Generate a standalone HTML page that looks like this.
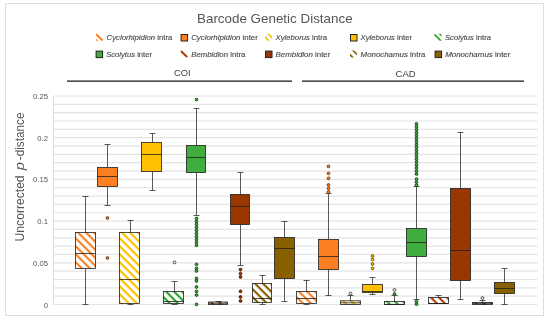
<!DOCTYPE html>
<html lang="en"><head><meta charset="utf-8"><title>Barcode Genetic Distance</title>
<style>html,body{margin:0;padding:0;background:#fff;overflow:hidden}body{width:550px;height:322px;position:relative;font-family:"Liberation Sans",sans-serif}</style></head>
<body>
<svg width="550" height="322" viewBox="0 0 550 322" style="position:absolute;left:0;top:0;display:block" font-family="'Liberation Sans', sans-serif">
<defs>
<pattern id="h_cyc" width="8" height="5.657" patternUnits="userSpaceOnUse" patternTransform="rotate(45)"><rect width="8" height="5.657" fill="#fff"/><rect x="0" y="2.85" width="8" height="2.1" fill="#FC7F22"/></pattern>
<pattern id="h_xyl" width="8" height="5.657" patternUnits="userSpaceOnUse" patternTransform="rotate(45)"><rect width="8" height="5.657" fill="#fff"/><rect x="0" y="2.85" width="8" height="2.1" fill="#FFC000"/></pattern>
<pattern id="h_sco" width="8" height="5.657" patternUnits="userSpaceOnUse" patternTransform="rotate(45)"><rect width="8" height="5.657" fill="#fff"/><rect x="0" y="2.85" width="8" height="2.1" fill="#2BA32B"/></pattern>
<pattern id="h_bem" width="8" height="5.657" patternUnits="userSpaceOnUse" patternTransform="rotate(45)"><rect width="8" height="5.657" fill="#fff"/><rect x="0" y="2.85" width="8" height="2.1" fill="#B43C06"/></pattern>
<pattern id="h_mon" width="8" height="5.657" patternUnits="userSpaceOnUse" patternTransform="rotate(45)"><rect width="8" height="5.657" fill="#fff"/><rect x="0" y="2.85" width="8" height="2.1" fill="#886000"/></pattern>
</defs>
<rect x="0" y="0" width="550" height="322" fill="#fff"/>
<rect x="5.5" y="3.5" width="538" height="312" fill="#fff" stroke="#dedede" stroke-width="1"/>
<line x1="53.6" x2="537.5" y1="304.50" y2="304.50" stroke="#e4e4e4" stroke-width="1.2"/>
<line x1="53.6" x2="537.5" y1="296.16" y2="296.16" stroke="#e4e4e4" stroke-width="1.2"/>
<line x1="53.6" x2="537.5" y1="287.82" y2="287.82" stroke="#e4e4e4" stroke-width="1.2"/>
<line x1="53.6" x2="537.5" y1="279.48" y2="279.48" stroke="#e4e4e4" stroke-width="1.2"/>
<line x1="53.6" x2="537.5" y1="271.14" y2="271.14" stroke="#e4e4e4" stroke-width="1.2"/>
<line x1="53.6" x2="537.5" y1="262.80" y2="262.80" stroke="#e4e4e4" stroke-width="1.2"/>
<line x1="53.6" x2="537.5" y1="254.46" y2="254.46" stroke="#e4e4e4" stroke-width="1.2"/>
<line x1="53.6" x2="537.5" y1="246.12" y2="246.12" stroke="#e4e4e4" stroke-width="1.2"/>
<line x1="53.6" x2="537.5" y1="237.78" y2="237.78" stroke="#e4e4e4" stroke-width="1.2"/>
<line x1="53.6" x2="537.5" y1="229.44" y2="229.44" stroke="#e4e4e4" stroke-width="1.2"/>
<line x1="53.6" x2="537.5" y1="221.10" y2="221.10" stroke="#e4e4e4" stroke-width="1.2"/>
<line x1="53.6" x2="537.5" y1="212.76" y2="212.76" stroke="#e4e4e4" stroke-width="1.2"/>
<line x1="53.6" x2="537.5" y1="204.42" y2="204.42" stroke="#e4e4e4" stroke-width="1.2"/>
<line x1="53.6" x2="537.5" y1="196.08" y2="196.08" stroke="#e4e4e4" stroke-width="1.2"/>
<line x1="53.6" x2="537.5" y1="187.74" y2="187.74" stroke="#e4e4e4" stroke-width="1.2"/>
<line x1="53.6" x2="537.5" y1="179.40" y2="179.40" stroke="#e4e4e4" stroke-width="1.2"/>
<line x1="53.6" x2="537.5" y1="171.06" y2="171.06" stroke="#e4e4e4" stroke-width="1.2"/>
<line x1="53.6" x2="537.5" y1="162.72" y2="162.72" stroke="#e4e4e4" stroke-width="1.2"/>
<line x1="53.6" x2="537.5" y1="154.38" y2="154.38" stroke="#e4e4e4" stroke-width="1.2"/>
<line x1="53.6" x2="537.5" y1="146.04" y2="146.04" stroke="#e4e4e4" stroke-width="1.2"/>
<line x1="53.6" x2="537.5" y1="137.70" y2="137.70" stroke="#e4e4e4" stroke-width="1.2"/>
<line x1="53.6" x2="537.5" y1="129.36" y2="129.36" stroke="#e4e4e4" stroke-width="1.2"/>
<line x1="53.6" x2="537.5" y1="121.02" y2="121.02" stroke="#e4e4e4" stroke-width="1.2"/>
<line x1="53.6" x2="537.5" y1="112.68" y2="112.68" stroke="#e4e4e4" stroke-width="1.2"/>
<line x1="53.6" x2="537.5" y1="104.34" y2="104.34" stroke="#e4e4e4" stroke-width="1.2"/>
<line x1="53.6" x2="537.5" y1="96.00" y2="96.00" stroke="#e4e4e4" stroke-width="1.2"/>
<line x1="53.6" x2="53.6" y1="96.0" y2="304.5" stroke="#dcdcdc" stroke-width="1"/>
<text x="48.0" y="307.50" font-size="7.7" fill="#555" text-anchor="end">0</text>
<text x="48.0" y="265.80" font-size="7.7" fill="#555" text-anchor="end">0.05</text>
<text x="48.0" y="224.10" font-size="7.7" fill="#555" text-anchor="end">0.1</text>
<text x="48.0" y="182.40" font-size="7.7" fill="#555" text-anchor="end">0.15</text>
<text x="48.0" y="140.70" font-size="7.7" fill="#555" text-anchor="end">0.2</text>
<text x="48.0" y="99.00" font-size="7.7" fill="#555" text-anchor="end">0.25</text>
<g transform="translate(23.9,0) rotate(-90)">
<text x="-241.4" y="0" font-size="12.8" fill="#555" lengthAdjust="spacingAndGlyphs" textLength="66">Uncorrected</text>
<text x="-170.2" y="0" font-size="12.8" fill="#555" lengthAdjust="spacingAndGlyphs" textLength="8.2" font-style="italic">p</text>
<text x="-160.2" y="0" font-size="12.8" fill="#555" lengthAdjust="spacingAndGlyphs" textLength="47.6">-distance</text>
</g>
<text x="197.0" y="22.9" font-size="12.4" fill="#555" textLength="155.6" lengthAdjust="spacingAndGlyphs">Barcode Genetic Distance</text>
<text x="173.9" y="76.1" font-size="9.3" fill="#404040" textLength="16.6" lengthAdjust="spacingAndGlyphs">COI</text>
<text x="395.6" y="77.0" font-size="9.3" fill="#404040" textLength="20" lengthAdjust="spacingAndGlyphs">CAD</text>
<line x1="67" x2="292" y1="81.2" y2="81.2" stroke="#161616" stroke-width="1.25"/>
<line x1="302" x2="524" y1="81.2" y2="81.2" stroke="#161616" stroke-width="1.25"/>
<clipPath id="cl_cyc"><rect x="96" y="33.8" width="7" height="7"/></clipPath>
<g clip-path="url(#cl_cyc)">
<line x1="93" y1="31" x2="107" y2="45" stroke="#FC7F22" stroke-width="2"/>
<line x1="93" y1="37" x2="107" y2="51" stroke="#FC7F22" stroke-width="2"/>
</g>
<text x="106.6" y="39.9" font-size="7.3" fill="#484848" stroke="#484848" stroke-width="0.12" textLength="65.8" lengthAdjust="spacingAndGlyphs"><tspan font-style="italic">Cyclorhipidion</tspan> intra</text>
<rect x="181.1" y="34.5" width="6.5" height="6.5" fill="#FC7F22" stroke="#222" stroke-width="1"/>
<text x="191.2" y="39.9" font-size="7.3" fill="#484848" stroke="#484848" stroke-width="0.12" textLength="66.6" lengthAdjust="spacingAndGlyphs"><tspan font-style="italic">Cyclorhipidion</tspan> inter</text>
<clipPath id="cl_xyl"><rect x="265" y="33.8" width="7" height="7"/></clipPath>
<g clip-path="url(#cl_xyl)">
<line x1="262" y1="27.69999999999999" x2="276" y2="41.69999999999999" stroke="#FFC000" stroke-width="1.6"/>
<line x1="262" y1="34" x2="276" y2="48" stroke="#FFC000" stroke-width="1.6"/>
</g>
<text x="275.6" y="39.9" font-size="7.3" fill="#484848" stroke="#484848" stroke-width="0.12" textLength="51.4" lengthAdjust="spacingAndGlyphs"><tspan font-style="italic">Xyleborus</tspan> intra</text>
<rect x="350.5" y="34.5" width="6.5" height="6.5" fill="#FFC000" stroke="#222" stroke-width="1"/>
<text x="360.6" y="39.9" font-size="7.3" fill="#484848" stroke="#484848" stroke-width="0.12" textLength="51.4" lengthAdjust="spacingAndGlyphs"><tspan font-style="italic">Xyleborus</tspan> inter</text>
<clipPath id="cl_sco"><rect x="434.4" y="33.8" width="7" height="7"/></clipPath>
<g clip-path="url(#cl_sco)">
<line x1="431.4" y1="31.399999999999977" x2="445.4" y2="45.39999999999998" stroke="#2BA32B" stroke-width="1.8"/>
<line x1="431.4" y1="25.399999999999977" x2="445.4" y2="39.39999999999998" stroke="#2BA32B" stroke-width="1.8"/>
</g>
<text x="445.0" y="39.9" font-size="7.3" fill="#484848" stroke="#484848" stroke-width="0.12" textLength="46.0" lengthAdjust="spacingAndGlyphs"><tspan font-style="italic">Scolytus</tspan> intra</text>
<rect x="96.1" y="51.1" width="6.5" height="6.5" fill="#3FAE3F" stroke="#222" stroke-width="1"/>
<text x="106.2" y="56.5" font-size="7.3" fill="#484848" stroke="#484848" stroke-width="0.12" textLength="45.8" lengthAdjust="spacingAndGlyphs"><tspan font-style="italic">Scolytus</tspan> inter</text>
<clipPath id="cl_bem"><rect x="180.6" y="50.4" width="7" height="7"/></clipPath>
<g clip-path="url(#cl_bem)">
<line x1="177.6" y1="47.599999999999994" x2="191.6" y2="61.599999999999994" stroke="#B43C06" stroke-width="2"/>
</g>
<text x="191.2" y="56.5" font-size="7.3" fill="#484848" stroke="#484848" stroke-width="0.12" textLength="54.2" lengthAdjust="spacingAndGlyphs"><tspan font-style="italic">Bembidion</tspan> intra</text>
<rect x="265.5" y="51.1" width="6.5" height="6.5" fill="#983800" stroke="#222" stroke-width="1"/>
<text x="275.6" y="56.5" font-size="7.3" fill="#484848" stroke="#484848" stroke-width="0.12" textLength="54.8" lengthAdjust="spacingAndGlyphs"><tspan font-style="italic">Bembidion</tspan> inter</text>
<clipPath id="cl_mon"><rect x="350" y="50.4" width="7" height="7"/></clipPath>
<g clip-path="url(#cl_mon)">
<line x1="347" y1="44.39999999999998" x2="361" y2="58.39999999999998" stroke="#886000" stroke-width="1.7"/>
<line x1="347" y1="51.80000000000001" x2="361" y2="65.80000000000001" stroke="#886000" stroke-width="1.7"/>
</g>
<text x="360.6" y="56.5" font-size="7.3" fill="#484848" stroke="#484848" stroke-width="0.12" textLength="64.8" lengthAdjust="spacingAndGlyphs"><tspan font-style="italic">Monochamus</tspan> intra</text>
<rect x="435.1" y="51.1" width="6.5" height="6.5" fill="#886000" stroke="#222" stroke-width="1"/>
<text x="445.2" y="56.5" font-size="7.3" fill="#484848" stroke="#484848" stroke-width="0.12" textLength="65.2" lengthAdjust="spacingAndGlyphs"><tspan font-style="italic">Monochamus</tspan> inter</text>
<g stroke="#1e1e1e" stroke-width="0.8">
<g stroke="#303030">
<line x1="85.5" x2="85.5" y1="196.5" y2="232.5"/>
<line x1="85.5" x2="85.5" y1="268.5" y2="304.5"/>
<line x1="82.5" x2="88.5" y1="196.5" y2="196.5"/>
<line x1="82.5" x2="88.5" y1="304.5" y2="304.5"/>
</g>
<g transform="translate(75.5,232.5)"><rect x="0" y="0" width="20.0" height="36.0" fill="url(#h_cyc)"/></g>
<line x1="75.5" x2="95.5" y1="253.5" y2="253.5"/>
</g>
<g stroke="#1e1e1e" stroke-width="0.8">
<g stroke="#303030">
<line x1="107.5" x2="107.5" y1="144.5" y2="167.5"/>
<line x1="107.5" x2="107.5" y1="186.5" y2="205.5"/>
<line x1="104.5" x2="110.5" y1="144.5" y2="144.5"/>
<line x1="104.5" x2="110.5" y1="205.5" y2="205.5"/>
</g>
<g transform="translate(97.5,167.5)"><rect x="0" y="0" width="20.0" height="19.0" fill="#FC7F22"/></g>
<line x1="97.5" x2="117.5" y1="176.5" y2="176.5"/>
</g>
<circle cx="107.5" cy="218.00" r="1.4" fill="#FC7F22" stroke="#6a3208" stroke-width="0.85"/>
<circle cx="107.5" cy="258.00" r="1.4" fill="#FC7F22" stroke="#6a3208" stroke-width="0.85"/>
<g stroke="#1e1e1e" stroke-width="0.8">
<g stroke="#303030">
<line x1="130.5" x2="130.5" y1="220.5" y2="232.5"/>
<line x1="130.5" x2="130.5" y1="303.5" y2="304.5"/>
<line x1="127.5" x2="133.5" y1="220.5" y2="220.5"/>
<line x1="127.5" x2="133.5" y1="304.5" y2="304.5"/>
</g>
<g transform="translate(119.5,232.5)"><rect x="0" y="0" width="20.0" height="71.0" fill="url(#h_xyl)"/></g>
<line x1="119.5" x2="139.5" y1="279.5" y2="279.5"/>
</g>
<g stroke="#1e1e1e" stroke-width="0.8">
<g stroke="#303030">
<line x1="152.5" x2="152.5" y1="133.5" y2="142.5"/>
<line x1="152.5" x2="152.5" y1="171.5" y2="190.5"/>
<line x1="149.5" x2="155.5" y1="133.5" y2="133.5"/>
<line x1="149.5" x2="155.5" y1="190.5" y2="190.5"/>
</g>
<g transform="translate(141.5,142.5)"><rect x="0" y="0" width="20.0" height="29.0" fill="#FFC000"/></g>
<line x1="141.5" x2="161.5" y1="154.5" y2="154.5"/>
</g>
<g stroke="#1e1e1e" stroke-width="0.8">
<g stroke="#303030">
<line x1="174.5" x2="174.5" y1="281.5" y2="291.5"/>
<line x1="174.5" x2="174.5" y1="303.5" y2="304.5"/>
<line x1="171.5" x2="177.5" y1="281.5" y2="281.5"/>
<line x1="171.5" x2="177.5" y1="304.5" y2="304.5"/>
</g>
<g transform="translate(163.5,291.5)"><rect x="0" y="0" width="20.0" height="12.0" fill="url(#h_sco)"/></g>
<line x1="163.5" x2="183.5" y1="301.5" y2="301.5"/>
</g>
<circle cx="174.5" cy="262.40" r="1.4" fill="#fff" stroke="#2c2c2c" stroke-width="0.85"/>
<g stroke="#1e1e1e" stroke-width="0.8">
<g stroke="#303030">
<line x1="196.5" x2="196.5" y1="108.5" y2="145.5"/>
<line x1="196.5" x2="196.5" y1="172.5" y2="215.5"/>
<line x1="193.5" x2="199.5" y1="108.5" y2="108.5"/>
<line x1="193.5" x2="199.5" y1="215.5" y2="215.5"/>
</g>
<g transform="translate(186.5,145.5)"><rect x="0" y="0" width="19.0" height="27.0" fill="#3FAE3F"/></g>
<line x1="186.5" x2="205.5" y1="157.5" y2="157.5"/>
</g>
<circle cx="196.5" cy="99.60" r="1.4" fill="#3FAE3F" stroke="#0f3a0f" stroke-width="0.85"/>
<circle cx="196.5" cy="218.50" r="1.4" fill="#3FAE3F" stroke="#0f3a0f" stroke-width="0.85"/>
<circle cx="196.5" cy="221.48" r="1.4" fill="#3FAE3F" stroke="#0f3a0f" stroke-width="0.85"/>
<circle cx="196.5" cy="224.46" r="1.4" fill="#3FAE3F" stroke="#0f3a0f" stroke-width="0.85"/>
<circle cx="196.5" cy="227.44" r="1.4" fill="#3FAE3F" stroke="#0f3a0f" stroke-width="0.85"/>
<circle cx="196.5" cy="230.42" r="1.4" fill="#3FAE3F" stroke="#0f3a0f" stroke-width="0.85"/>
<circle cx="196.5" cy="233.40" r="1.4" fill="#3FAE3F" stroke="#0f3a0f" stroke-width="0.85"/>
<circle cx="196.5" cy="236.38" r="1.4" fill="#3FAE3F" stroke="#0f3a0f" stroke-width="0.85"/>
<circle cx="196.5" cy="239.36" r="1.4" fill="#3FAE3F" stroke="#0f3a0f" stroke-width="0.85"/>
<circle cx="196.5" cy="242.34" r="1.4" fill="#3FAE3F" stroke="#0f3a0f" stroke-width="0.85"/>
<circle cx="196.5" cy="245.32" r="1.4" fill="#3FAE3F" stroke="#0f3a0f" stroke-width="0.85"/>
<circle cx="196.5" cy="264.40" r="1.4" fill="#3FAE3F" stroke="#0f3a0f" stroke-width="0.85"/>
<circle cx="196.5" cy="268.40" r="1.4" fill="#3FAE3F" stroke="#0f3a0f" stroke-width="0.85"/>
<circle cx="196.5" cy="271.00" r="1.4" fill="#3FAE3F" stroke="#0f3a0f" stroke-width="0.85"/>
<circle cx="196.5" cy="278.40" r="1.4" fill="#3FAE3F" stroke="#0f3a0f" stroke-width="0.85"/>
<circle cx="196.5" cy="281.00" r="1.4" fill="#3FAE3F" stroke="#0f3a0f" stroke-width="0.85"/>
<circle cx="196.5" cy="287.00" r="1.4" fill="#3FAE3F" stroke="#0f3a0f" stroke-width="0.85"/>
<circle cx="196.5" cy="291.40" r="1.4" fill="#3FAE3F" stroke="#0f3a0f" stroke-width="0.85"/>
<circle cx="196.5" cy="295.00" r="1.4" fill="#3FAE3F" stroke="#0f3a0f" stroke-width="0.85"/>
<circle cx="196.5" cy="304.40" r="1.4" fill="#3FAE3F" stroke="#0f3a0f" stroke-width="0.85"/>
<g stroke="#1e1e1e" stroke-width="0.8">
<g stroke="#303030">
<line x1="218.5" x2="218.5" y1="301.5" y2="302"/>
<line x1="218.5" x2="218.5" y1="304.6" y2="304.5"/>
<line x1="215.5" x2="221.5" y1="301.5" y2="301.5"/>
<line x1="215.5" x2="221.5" y1="304.5" y2="304.5"/>
</g>
<g transform="translate(208.5,302)"><rect x="0" y="0" width="19.0" height="2.6000000000000227" fill="url(#h_bem)"/></g>
<line x1="208.5" x2="227.5" y1="303.3" y2="303.3"/>
</g>
<g stroke="#1e1e1e" stroke-width="0.8">
<g stroke="#303030">
<line x1="240.5" x2="240.5" y1="172.5" y2="194.5"/>
<line x1="240.5" x2="240.5" y1="224.5" y2="265.5"/>
<line x1="237.5" x2="243.5" y1="172.5" y2="172.5"/>
<line x1="237.5" x2="243.5" y1="265.5" y2="265.5"/>
</g>
<g transform="translate(230.5,194.5)"><rect x="0" y="0" width="19.0" height="30.0" fill="#983800"/></g>
<line x1="230.5" x2="249.5" y1="206.5" y2="206.5"/>
</g>
<circle cx="240.5" cy="269.60" r="1.4" fill="#983800" stroke="#3a1400" stroke-width="0.85"/>
<circle cx="240.5" cy="273.60" r="1.4" fill="#983800" stroke="#3a1400" stroke-width="0.85"/>
<circle cx="240.5" cy="277.00" r="1.4" fill="#983800" stroke="#3a1400" stroke-width="0.85"/>
<circle cx="240.5" cy="291.40" r="1.4" fill="#983800" stroke="#3a1400" stroke-width="0.85"/>
<circle cx="240.5" cy="297.00" r="1.4" fill="#983800" stroke="#3a1400" stroke-width="0.85"/>
<circle cx="240.5" cy="301.00" r="1.4" fill="#983800" stroke="#3a1400" stroke-width="0.85"/>
<g stroke="#1e1e1e" stroke-width="0.8">
<g stroke="#303030">
<line x1="262.5" x2="262.5" y1="275.5" y2="283.5"/>
<line x1="262.5" x2="262.5" y1="302.5" y2="304.5"/>
<line x1="259.5" x2="265.5" y1="275.5" y2="275.5"/>
<line x1="259.5" x2="265.5" y1="304.5" y2="304.5"/>
</g>
<g transform="translate(252.5,283.5)"><rect x="0" y="0" width="19.0" height="19.0" fill="url(#h_mon)"/></g>
<line x1="252.5" x2="271.5" y1="298.5" y2="298.5"/>
</g>
<g stroke="#1e1e1e" stroke-width="0.8">
<g stroke="#303030">
<line x1="284.5" x2="284.5" y1="221.5" y2="237.5"/>
<line x1="284.5" x2="284.5" y1="278.5" y2="301.5"/>
<line x1="281.5" x2="287.5" y1="221.5" y2="221.5"/>
<line x1="281.5" x2="287.5" y1="301.5" y2="301.5"/>
</g>
<g transform="translate(274.5,237.5)"><rect x="0" y="0" width="20.0" height="41.0" fill="#886000"/></g>
<line x1="274.5" x2="294.5" y1="248.5" y2="248.5"/>
</g>
<g stroke="#1e1e1e" stroke-width="0.8">
<g stroke="#303030">
<line x1="306.5" x2="306.5" y1="280.5" y2="291.5"/>
<line x1="306.5" x2="306.5" y1="303.5" y2="304.5"/>
<line x1="303.5" x2="309.5" y1="280.5" y2="280.5"/>
<line x1="303.5" x2="309.5" y1="304.5" y2="304.5"/>
</g>
<g transform="translate(296.5,291.5)"><rect x="0" y="0" width="20.0" height="12.0" fill="url(#h_cyc)"/></g>
<line x1="296.5" x2="316.5" y1="298.5" y2="298.5"/>
</g>
<g stroke="#1e1e1e" stroke-width="0.8">
<g stroke="#303030">
<line x1="328.5" x2="328.5" y1="193.5" y2="239.5"/>
<line x1="328.5" x2="328.5" y1="269.5" y2="295.5"/>
<line x1="325.5" x2="331.5" y1="193.5" y2="193.5"/>
<line x1="325.5" x2="331.5" y1="295.5" y2="295.5"/>
</g>
<g transform="translate(318.5,239.5)"><rect x="0" y="0" width="20.0" height="30.0" fill="#FC7F22"/></g>
<line x1="318.5" x2="338.5" y1="256.5" y2="256.5"/>
</g>
<circle cx="328.5" cy="166.40" r="1.4" fill="#FC7F22" stroke="#6a3208" stroke-width="0.85"/>
<circle cx="328.5" cy="173.40" r="1.4" fill="#FC7F22" stroke="#6a3208" stroke-width="0.85"/>
<circle cx="328.5" cy="178.40" r="1.4" fill="#FC7F22" stroke="#6a3208" stroke-width="0.85"/>
<circle cx="328.5" cy="185.00" r="1.4" fill="#FC7F22" stroke="#6a3208" stroke-width="0.85"/>
<circle cx="328.5" cy="188.40" r="1.4" fill="#FC7F22" stroke="#6a3208" stroke-width="0.85"/>
<circle cx="328.5" cy="192.00" r="1.4" fill="#FC7F22" stroke="#6a3208" stroke-width="0.85"/>
<g stroke="#1e1e1e" stroke-width="0.8">
<g stroke="#303030">
<line x1="350.5" x2="350.5" y1="295.5" y2="300.8"/>
<line x1="350.5" x2="350.5" y1="304.6" y2="304.5"/>
<line x1="347.5" x2="353.5" y1="295.5" y2="295.5"/>
<line x1="347.5" x2="353.5" y1="304.5" y2="304.5"/>
</g>
<g transform="translate(340.5,300.8)"><rect x="0" y="0" width="20.0" height="3.8000000000000114" fill="url(#h_xyl)"/></g>
<line x1="340.5" x2="360.5" y1="302.8" y2="302.8"/>
</g>
<circle cx="350.5" cy="293.50" r="1.4" fill="#fff" stroke="#2c2c2c" stroke-width="0.85"/>
<g stroke="#1e1e1e" stroke-width="0.8">
<g stroke="#303030">
<line x1="372.5" x2="372.5" y1="277.5" y2="284.5"/>
<line x1="372.5" x2="372.5" y1="292.5" y2="294.5"/>
<line x1="369.5" x2="375.5" y1="277.5" y2="277.5"/>
<line x1="369.5" x2="375.5" y1="294.5" y2="294.5"/>
</g>
<g transform="translate(362.5,284.5)"><rect x="0" y="0" width="20.0" height="8.0" fill="#FFC000"/></g>
<line x1="362.5" x2="382.5" y1="291.5" y2="291.5"/>
</g>
<circle cx="372.5" cy="256.00" r="1.4" fill="#FFC000" stroke="#5a4400" stroke-width="0.85"/>
<circle cx="372.5" cy="259.40" r="1.4" fill="#FFC000" stroke="#5a4400" stroke-width="0.85"/>
<circle cx="372.5" cy="264.00" r="1.4" fill="#FFC000" stroke="#5a4400" stroke-width="0.85"/>
<circle cx="372.5" cy="268.40" r="1.4" fill="#FFC000" stroke="#5a4400" stroke-width="0.85"/>
<g stroke="#1e1e1e" stroke-width="0.8">
<g stroke="#303030">
<line x1="394.5" x2="394.5" y1="295.5" y2="301.4"/>
<line x1="394.5" x2="394.5" y1="304.6" y2="304.5"/>
<line x1="391.5" x2="397.5" y1="295.5" y2="295.5"/>
<line x1="391.5" x2="397.5" y1="304.5" y2="304.5"/>
</g>
<g transform="translate(384.5,301.4)"><rect x="0" y="0" width="20.0" height="3.2000000000000455" fill="url(#h_sco)"/></g>
<line x1="384.5" x2="404.5" y1="304.4" y2="304.4"/>
</g>
<circle cx="394.5" cy="289.90" r="1.4" fill="#fff" stroke="#2c2c2c" stroke-width="0.85"/>
<circle cx="394.5" cy="294.00" r="1.4" fill="#3FAE3F" stroke="#0f3a0f" stroke-width="0.85"/>
<g stroke="#1e1e1e" stroke-width="0.8">
<g stroke="#303030">
<line x1="416.5" x2="416.5" y1="186.5" y2="228.5"/>
<line x1="416.5" x2="416.5" y1="256.5" y2="299.5"/>
<line x1="413.5" x2="419.5" y1="186.5" y2="186.5"/>
<line x1="413.5" x2="419.5" y1="299.5" y2="299.5"/>
</g>
<g transform="translate(406.5,228.5)"><rect x="0" y="0" width="20.0" height="28.0" fill="#3FAE3F"/></g>
<line x1="406.5" x2="426.5" y1="242.5" y2="242.5"/>
</g>
<circle cx="416.5" cy="123.80" r="1.4" fill="#3FAE3F" stroke="#0f3a0f" stroke-width="0.85"/>
<circle cx="416.5" cy="126.75" r="1.4" fill="#3FAE3F" stroke="#0f3a0f" stroke-width="0.85"/>
<circle cx="416.5" cy="129.71" r="1.4" fill="#3FAE3F" stroke="#0f3a0f" stroke-width="0.85"/>
<circle cx="416.5" cy="132.66" r="1.4" fill="#3FAE3F" stroke="#0f3a0f" stroke-width="0.85"/>
<circle cx="416.5" cy="135.61" r="1.4" fill="#3FAE3F" stroke="#0f3a0f" stroke-width="0.85"/>
<circle cx="416.5" cy="138.56" r="1.4" fill="#3FAE3F" stroke="#0f3a0f" stroke-width="0.85"/>
<circle cx="416.5" cy="141.52" r="1.4" fill="#3FAE3F" stroke="#0f3a0f" stroke-width="0.85"/>
<circle cx="416.5" cy="144.47" r="1.4" fill="#3FAE3F" stroke="#0f3a0f" stroke-width="0.85"/>
<circle cx="416.5" cy="147.42" r="1.4" fill="#3FAE3F" stroke="#0f3a0f" stroke-width="0.85"/>
<circle cx="416.5" cy="150.38" r="1.4" fill="#3FAE3F" stroke="#0f3a0f" stroke-width="0.85"/>
<circle cx="416.5" cy="153.33" r="1.4" fill="#3FAE3F" stroke="#0f3a0f" stroke-width="0.85"/>
<circle cx="416.5" cy="156.28" r="1.4" fill="#3FAE3F" stroke="#0f3a0f" stroke-width="0.85"/>
<circle cx="416.5" cy="159.24" r="1.4" fill="#3FAE3F" stroke="#0f3a0f" stroke-width="0.85"/>
<circle cx="416.5" cy="162.19" r="1.4" fill="#3FAE3F" stroke="#0f3a0f" stroke-width="0.85"/>
<circle cx="416.5" cy="165.14" r="1.4" fill="#3FAE3F" stroke="#0f3a0f" stroke-width="0.85"/>
<circle cx="416.5" cy="168.09" r="1.4" fill="#3FAE3F" stroke="#0f3a0f" stroke-width="0.85"/>
<circle cx="416.5" cy="171.05" r="1.4" fill="#3FAE3F" stroke="#0f3a0f" stroke-width="0.85"/>
<circle cx="416.5" cy="174.00" r="1.4" fill="#3FAE3F" stroke="#0f3a0f" stroke-width="0.85"/>
<circle cx="416.5" cy="179.10" r="1.4" fill="#3FAE3F" stroke="#0f3a0f" stroke-width="0.85"/>
<circle cx="416.5" cy="182.10" r="1.4" fill="#3FAE3F" stroke="#0f3a0f" stroke-width="0.85"/>
<circle cx="416.5" cy="185.10" r="1.4" fill="#3FAE3F" stroke="#0f3a0f" stroke-width="0.85"/>
<circle cx="416.5" cy="301.60" r="1.4" fill="#3FAE3F" stroke="#0f3a0f" stroke-width="0.85"/>
<circle cx="416.5" cy="304.20" r="1.4" fill="#3FAE3F" stroke="#0f3a0f" stroke-width="0.85"/>
<g stroke="#1e1e1e" stroke-width="0.8">
<g stroke="#303030">
<line x1="438.5" x2="438.5" y1="295.5" y2="297.5"/>
<line x1="438.5" x2="438.5" y1="303.5" y2="303.5"/>
<line x1="435.5" x2="441.5" y1="295.5" y2="295.5"/>
<line x1="435.5" x2="441.5" y1="303.5" y2="303.5"/>
</g>
<g transform="translate(428.5,297.5)"><rect x="0" y="0" width="20.0" height="6.0" fill="url(#h_bem)"/></g>
<line x1="428.5" x2="448.5" y1="303.5" y2="303.5"/>
</g>
<g stroke="#1e1e1e" stroke-width="0.8">
<g stroke="#303030">
<line x1="460.5" x2="460.5" y1="132.5" y2="188.5"/>
<line x1="460.5" x2="460.5" y1="280.5" y2="299.5"/>
<line x1="457.5" x2="463.5" y1="132.5" y2="132.5"/>
<line x1="457.5" x2="463.5" y1="299.5" y2="299.5"/>
</g>
<g transform="translate(450.5,188.5)"><rect x="0" y="0" width="20.0" height="92.0" fill="#983800"/></g>
<line x1="450.5" x2="470.5" y1="250.5" y2="250.5"/>
</g>
<g stroke="#1e1e1e" stroke-width="0.8">
<g stroke="#303030">
<line x1="482.5" x2="482.5" y1="300.5" y2="302.4"/>
<line x1="482.5" x2="482.5" y1="304.4" y2="304.5"/>
<line x1="479.5" x2="485.5" y1="300.5" y2="300.5"/>
<line x1="479.5" x2="485.5" y1="304.5" y2="304.5"/>
</g>
<g transform="translate(472.5,302.4)"><rect x="0" y="0" width="20.0" height="2.0" fill="url(#h_mon)"/></g>
<line x1="472.5" x2="492.5" y1="303.4" y2="303.4"/>
</g>
<circle cx="482.5" cy="298.00" r="1.4" fill="#fff" stroke="#2c2c2c" stroke-width="0.85"/>
<g stroke="#1e1e1e" stroke-width="0.8">
<g stroke="#303030">
<line x1="504.5" x2="504.5" y1="268.5" y2="282.5"/>
<line x1="504.5" x2="504.5" y1="293.5" y2="304.5"/>
<line x1="501.5" x2="507.5" y1="268.5" y2="268.5"/>
<line x1="501.5" x2="507.5" y1="304.5" y2="304.5"/>
</g>
<g transform="translate(494.5,282.5)"><rect x="0" y="0" width="20.0" height="11.0" fill="#886000"/></g>
<line x1="494.5" x2="514.5" y1="288.5" y2="288.5"/>
</g>
</svg>
</body></html>
